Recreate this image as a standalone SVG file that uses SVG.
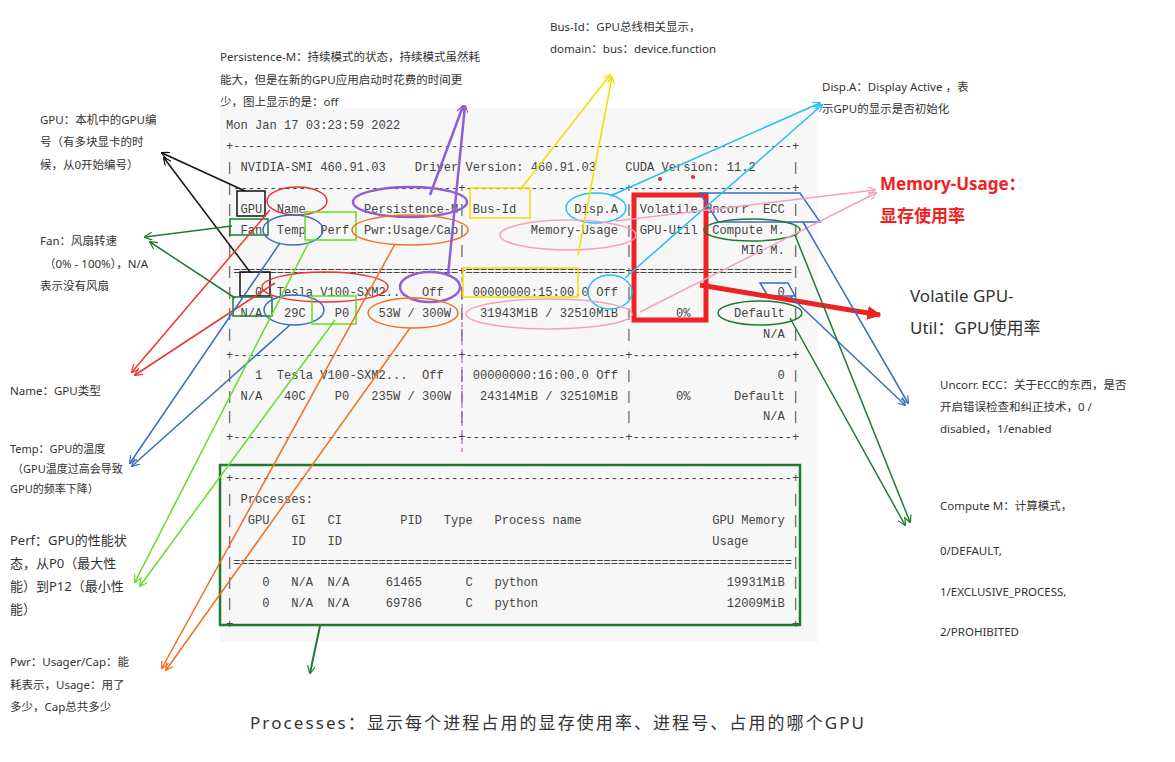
<svg xmlns="http://www.w3.org/2000/svg" width="1175" height="762" viewBox="0 0 1175 762">
<style>
.t{font-family:"Liberation Mono",monospace;font-size:12.1px;fill:#444;white-space:pre}
.a{font-family:"Noto Sans","Noto Sans CJK SC",sans-serif;font-size:11.5px;fill:#333}
.b{font-family:"Noto Sans","Noto Sans CJK SC",sans-serif;font-size:17px;fill:#333}
.s{fill:none;stroke-width:1.5}
</style>
<defs>
<marker id="m" viewBox="0 0 10 10" refX="9" refY="5" markerWidth="8" markerHeight="8" orient="auto" markerUnits="userSpaceOnUse"><path d="M0,0 L10,5 L0,10" fill="none" stroke="context-stroke" stroke-width="1.5"/></marker>
<marker id="mf" viewBox="0 0 10 10" refX="9" refY="5" markerWidth="14" markerHeight="14" orient="auto" markerUnits="userSpaceOnUse"><path d="M0,0 L10,5 L0,10 z" fill="context-stroke"/></marker>
</defs>
<rect width="1175" height="762" fill="#fff"/>
<g id="terminal">
<rect x="220" y="108" width="598" height="534" fill="#f7f7f7"/>
<text class="t" x="226" y="129">Mon Jan 17 03:23:59 2022</text>
<text class="t" x="226" y="150">+-----------------------------------------------------------------------------+</text>
<text class="t" x="226" y="171">| NVIDIA-SMI 460.91.03    Driver Version: 460.91.03    CUDA Version: 11.2     |</text>
<text class="t" x="226" y="192">|-------------------------------+----------------------+----------------------+</text>
<text class="t" x="226" y="213">| GPU  Name        Persistence-M| Bus-Id        Disp.A | Volatile Uncorr. ECC |</text>
<text class="t" x="226" y="234">| Fan  Temp  Perf  Pwr:Usage/Cap|         Memory-Usage | GPU-Util  Compute M. |</text>
<text class="t" x="226" y="254">|                               |                      |               MIG M. |</text>
<text class="t" x="226" y="275">|===============================+======================+======================|</text>
<text class="t" x="226" y="296">|   0  Tesla V100-SXM2...  Off  | 00000000:15:00.0 Off |                    0 |</text>
<text class="t" x="226" y="317">| N/A   29C    P0    53W / 300W |  31943MiB / 32510MiB |      0%      Default |</text>
<text class="t" x="226" y="338">|                               |                      |                  N/A |</text>
<text class="t" x="226" y="359">+-------------------------------+----------------------+----------------------+</text>
<text class="t" x="226" y="379">|   1  Tesla V100-SXM2...  Off  | 00000000:16:00.0 Off |                    0 |</text>
<text class="t" x="226" y="400">| N/A   40C    P0   235W / 300W |  24314MiB / 32510MiB |      0%      Default |</text>
<text class="t" x="226" y="420">|                               |                      |                  N/A |</text>
<text class="t" x="226" y="441">+-------------------------------+----------------------+----------------------+</text>
<text class="t" x="226" y="482">+-----------------------------------------------------------------------------+</text>
<text class="t" x="226" y="503">| Processes:                                                                  |</text>
<text class="t" x="226" y="524">|  GPU   GI   CI        PID   Type   Process name                  GPU Memory |</text>
<text class="t" x="226" y="545">|        ID   ID                                                   Usage      |</text>
<text class="t" x="226" y="566">|=============================================================================|</text>
<text class="t" x="226" y="586">|    0   N/A  N/A     61465      C   python                          19931MiB |</text>
<text class="t" x="226" y="607">|    0   N/A  N/A     69786      C   python                          12009MiB |</text>
<text class="t" x="226" y="628">+-----------------------------------------------------------------------------+</text>
<line x1="462" y1="268" x2="462" y2="452" stroke="#c040c0" stroke-dasharray="5,4"/>
</g>
<g id="marks" class="s">
<rect x="237" y="191" width="28" height="25" stroke="#111"/>
<ellipse cx="297" cy="201" rx="30" ry="14" stroke="#e33"/>
<ellipse cx="410" cy="202" rx="57" ry="15" stroke="#9060d0" stroke-width="2.5"/>
<rect x="470" y="188" width="60" height="30" stroke="#f0e000"/>
<ellipse cx="596" cy="208" rx="30" ry="15" stroke="#20c0f0"/>
<rect x="634" y="195" width="72" height="125" stroke="#e22" stroke-width="5"/>
<circle cx="660" cy="179" r="2" fill="#e22" stroke="none"/>
<circle cx="693" cy="177" r="2" fill="#e22" stroke="none"/>
<path d="M700,193 L800,193 L820,222 L718,222 Z" stroke="#3a6cc0"/>
<rect x="230" y="219" width="38" height="16" stroke="#207a30"/>
<ellipse cx="293" cy="230" rx="30" ry="15" stroke="#3a6cc0"/>
<rect x="305" y="212" width="51" height="28" stroke="#66dd22"/>
<ellipse cx="410" cy="230" rx="58" ry="15" stroke="#f07020"/>
<ellipse cx="568" cy="235" rx="68" ry="15" stroke="#f5a0c0"/>
<ellipse cx="752" cy="230" rx="48" ry="11" stroke="#207a30"/>
<rect x="240" y="272" width="30" height="24" stroke="#111"/>
<ellipse cx="325" cy="287" rx="63" ry="15" stroke="#e33"/>
<ellipse cx="430" cy="287" rx="30" ry="15" stroke="#9060d0" stroke-width="2.5"/>
<rect x="463" y="268" width="115" height="29" stroke="#f0e000"/>
<ellipse cx="610" cy="292" rx="22" ry="17" stroke="#20c0f0"/>
<rect x="233" y="297" width="39" height="19" stroke="#207a30"/>
<ellipse cx="294" cy="310" rx="30" ry="15" stroke="#3a6cc0"/>
<rect x="312" y="296" width="44" height="28" stroke="#66dd22"/>
<ellipse cx="413" cy="313" rx="45" ry="15" stroke="#f07020"/>
<ellipse cx="549" cy="314" rx="83" ry="15" stroke="#f5a0c0"/>
<ellipse cx="760" cy="313" rx="42" ry="12" stroke="#207a30"/>
<path d="M760,283 L788,283 L795,296 L768,296 Z" stroke="#3a6cc0"/>
<rect x="220" y="465" width="580" height="160" stroke="#207a30" stroke-width="2.5"/>
</g>
<g id="connectors" class="s" marker-end="url(#m)">
<line x1="245" y1="191" x2="162" y2="153" stroke="#111"/>
<line x1="250" y1="272" x2="164" y2="158" stroke="#111"/>
<line x1="232" y1="226" x2="145" y2="237" stroke="#207a30"/>
<line x1="235" y1="298" x2="150" y2="242" stroke="#207a30"/>
<line x1="270" y1="210" x2="132" y2="372" stroke="#e33"/>
<line x1="275" y1="283" x2="135" y2="375" stroke="#e33"/>
<line x1="280" y1="243" x2="130" y2="463" stroke="#3a6cc0"/>
<line x1="290" y1="325" x2="132" y2="466" stroke="#3a6cc0"/>
<line x1="310" y1="240" x2="135" y2="582" stroke="#66dd22"/>
<line x1="335" y1="320" x2="140" y2="586" stroke="#66dd22"/>
<line x1="395" y1="244" x2="162" y2="668" stroke="#f07020"/>
<line x1="410" y1="328" x2="166" y2="670" stroke="#f07020"/>
<line x1="430" y1="195" x2="463" y2="106" stroke="#9060d0" stroke-width="2.5"/>
<line x1="448" y1="275" x2="465" y2="106" stroke="#9060d0" stroke-width="2.5"/>
<line x1="520" y1="190" x2="610" y2="75" stroke="#f0e000"/>
<line x1="578" y1="255" x2="612" y2="77" stroke="#f0e000"/>
<line x1="610" y1="196" x2="820" y2="103" stroke="#20c0f0"/>
<line x1="625" y1="278" x2="822" y2="105" stroke="#20c0f0"/>
<line x1="615" y1="221" x2="875" y2="190" stroke="#f5a0c0"/>
<line x1="640" y1="312" x2="876" y2="193" stroke="#f5a0c0"/>
<line x1="700" y1="285" x2="880" y2="315" stroke="#e22" stroke-width="5" marker-end="url(#mf)"/>
<line x1="803" y1="222" x2="908" y2="403" stroke="#3a6cc0"/>
<line x1="790" y1="296" x2="905" y2="405" stroke="#3a6cc0"/>
<line x1="795" y1="235" x2="910" y2="522" stroke="#207a30"/>
<line x1="790" y1="318" x2="905" y2="525" stroke="#207a30"/>
<line x1="320" y1="626" x2="310" y2="673" stroke="#207a30" stroke-width="2"/>
</g>
<g id="labels">
<text class="a" x="220" y="61">Persistence-M：持续模式的状态，持续模式虽然耗</text>
<text class="a" x="220" y="84">能大，但是在新的GPU应用启动时花费的时间更</text>
<text class="a" x="220" y="106">少，图上显示的是：off</text>
<text class="a" x="550" y="31">Bus-Id：GPU总线相关显示，</text>
<text class="a" x="550" y="53">domain：bus：device.function</text>
<text class="a" x="822" y="91">Disp.A：Display Active ，表</text>
<text class="a" x="822" y="113">示GPU的显示是否初始化</text>
<text class="a" x="40" y="124">GPU：本机中的GPU编</text>
<text class="a" x="40" y="146">号（有多块显卡的时</text>
<text class="a" x="40" y="169">候，从0开始编号）</text>
<text class="a" x="40" y="245">Fan：风扇转速</text>
<text class="a" x="44" y="268">（0% - 100%），N/A</text>
<text class="a" x="40" y="290">表示没有风扇</text>
<text class="a" x="10" y="395">Name：GPU类型</text>
<text class="a" x="10" y="453" style="font-size:11px">Temp：GPU的温度</text>
<text class="a" x="12" y="473" style="font-size:11px">（GPU温度过高会导致</text>
<text class="a" x="10" y="493" style="font-size:11px">GPU的频率下降）</text>
<text class="a" x="10" y="545" style="font-size:13px">Perf：GPU的性能状</text>
<text class="a" x="10" y="568" style="font-size:13px">态，从P0（最大性</text>
<text class="a" x="10" y="591" style="font-size:13px">能）到P12（最小性</text>
<text class="a" x="10" y="614" style="font-size:13px">能）</text>
<text class="a" x="10" y="666">Pwr：Usager/Cap：能</text>
<text class="a" x="10" y="689">耗表示，Usage：用了</text>
<text class="a" x="10" y="711">多少，Cap总共多少</text>
<text class="b" x="880" y="190" style="fill:#e22;font-weight:bold">Memory-Usage：</text>
<text class="b" x="880" y="222" style="fill:#e22;font-weight:bold">显存使用率</text>
<text class="b" x="910" y="302">Volatile GPU-</text>
<text class="b" x="910" y="334">Util：GPU使用率</text>
<text class="a" x="940" y="389">Uncorr. ECC：关于ECC的东西，是否</text>
<text class="a" x="940" y="411">开启错误检查和纠正技术，0 /</text>
<text class="a" x="940" y="433">disabled，1/enabled</text>
<text class="a" x="940" y="510">Compute M：计算模式，</text>
<text class="a" x="940" y="555">0/DEFAULT,</text>
<text class="a" x="940" y="596">1/EXCLUSIVE_PROCESS,</text>
<text class="a" x="940" y="636">2/PROHIBITED</text>
<text class="b" x="250" y="729" textLength="614" lengthAdjust="spacing">Processes：显示每个进程占用的显存使用率、进程号、占用的哪个GPU</text>
</g>
</svg>
